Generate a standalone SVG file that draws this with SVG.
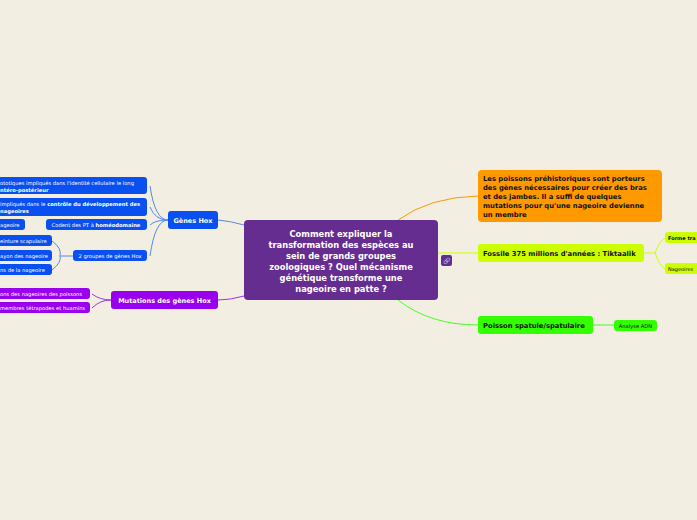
<svg xmlns="http://www.w3.org/2000/svg" width="697" height="520" viewBox="0 0 697 520">
<style>
text{font-family:Verdana,"DejaVu Sans",sans-serif}
.b{fill:#0a50f0}.w{fill:#fff;font-size:5.2px}.bw{fill:#fff;font-size:6.5px;font-weight:bold}
.c{fill:none;stroke-width:1}
.k{fill:#111;font-weight:bold;font-size:6.8px}
</style>
<rect width="697" height="520" fill="#f2efe2"/>
<g id="connectors">
<path class="c" stroke="#5588ee" d="M244 225 Q230 221 218 220"/>
<path class="c" stroke="#5588ee" d="M168 220 Q155 220 150 186 M168 220 Q155 220 150 207 M168 220 Q155 220 150 225 M168 220 Q155 220 150 256"/>
<path class="c" stroke="#5588ee" d="M46 225 H52 M73 256 H60 Q62 248 52 241 M60 256 Q62 262 52 270"/>
<path class="c" stroke="#9933ee" d="M244 296 Q230 300 218 300 M111 300 Q100 300 92 294 M111 300 Q100 300 92 308"/>
<path class="c" stroke="#ff9900" d="M398 220 Q430 197 478 196"/>
<path class="c" stroke="#ccff00" d="M438 253 H478 M644 253 H655 Q660 240 665 238 M655 253 Q660 266 665 269"/>
<path class="c" stroke="#44ff22" d="M398 300 Q430 325 478 325 M593 325 H614"/>
</g>
<g id="central"><rect x="244" y="220" width="194" height="80" rx="4" fill="#662d91"/>
<text x="341" text-anchor="middle" fill="#fff" font-size="8.3" font-weight="bold"><tspan x="341" y="237">Comment expliquer la</tspan><tspan x="341" y="248">transformation des espèces au</tspan><tspan x="341" y="259">sein de grands groupes</tspan><tspan x="341" y="270">zoologiques ? Quel mécanisme</tspan><tspan x="341" y="281">génétique transforme une</tspan><tspan x="341" y="292">nageoire en patte ?</tspan></text>
<rect x="441" y="255" width="11" height="11" rx="2" fill="#662d91"/><text x="446.5" y="263" text-anchor="middle" fill="#fff" font-size="6">🔗</text></g>
<g id="hox"><rect x="168" y="211" width="50" height="18" rx="3" class="b"/><text x="193" y="223" text-anchor="middle" class="bw">Gènes Hox</text></g>
<g id="h1"><rect x="-5" y="177" width="152" height="17" rx="3" class="b"/><text x="0" y="184.5" class="w">ototiques impliqués dans l'identité cellulaire le long</text><text x="0" y="191.5" class="w" font-weight="bold">ntéro-postérieur</text></g>
<g id="h2"><rect x="-5" y="198" width="152" height="18" rx="3" class="b"/><text x="0" y="205.5" class="w">impliqués dans le <tspan font-weight="bold">contrôle du développement des</tspan></text><text x="0" y="212.5" class="w" font-weight="bold">nageoires</text></g>
<g id="h3"><rect x="46" y="219" width="101" height="11" rx="3" class="b"/><text x="96" y="226.5" text-anchor="middle" class="w">Codent des PT à <tspan font-weight="bold">homéodomaine</tspan></text></g>
<g id="h3a"><rect x="-5" y="219" width="30" height="11" rx="3" class="b"/><text x="0" y="226.5" class="w">ageoire</text></g>
<g id="h4"><rect x="73" y="250" width="74" height="11" rx="3" class="b"/><text x="110" y="257.5" text-anchor="middle" class="w">2 groupes de gènes Hox</text></g>
<g id="h4a"><rect x="-5" y="235" width="57" height="11" rx="3" class="b"/><text x="0" y="242.5" class="w">einture scapulaire</text></g>
<g id="h4b"><rect x="-5" y="250" width="57" height="11" rx="3" class="b"/><text x="0" y="257.5" class="w">ayon des nageoire</text></g>
<g id="h4c"><rect x="-5" y="264" width="57" height="11" rx="3" class="b"/><text x="0" y="271.5" class="w">ns de la nageoire</text></g>
<g id="mut"><rect x="111" y="291" width="107" height="18" rx="3" fill="#9900ee"/><text x="164.5" y="302.5" text-anchor="middle" class="bw">Mutations des gènes Hox</text></g>
<g id="m1"><rect x="-5" y="288" width="95" height="11" rx="3" fill="#9900ee"/><text x="0" y="295.5" class="w">ons des nageoires des poissons</text></g>
<g id="m2"><rect x="-5" y="302" width="95" height="11" rx="3" fill="#9900ee"/><text x="0" y="309.5" class="w">membres tétrapodes et huamins</text></g>
<g id="orange"><rect x="478" y="170" width="184" height="52" rx="4" fill="#ff9900"/><text class="k"><tspan x="483" y="181">Les poissons préhistoriques sont porteurs</tspan><tspan x="483" y="190">des gènes nécessaires pour créer des bras</tspan><tspan x="483" y="199">et des jambes. Il a suffi de quelques</tspan><tspan x="483" y="208">mutations pour qu'une nageoire devienne</tspan><tspan x="483" y="217">un membre</tspan></text></g>
<g id="fossile"><rect x="478" y="244" width="166" height="18" rx="3" fill="#ccff00"/><text x="483" y="256" class="k">Fossile 375 millions d'années : Tiktaalik</text></g>
<g id="f1"><rect x="665" y="232" width="40" height="11" rx="3" fill="#ccff00"/><text x="668" y="240" fill="#111" font-weight="bold" font-size="5">Forme tra</text></g>
<g id="f2"><rect x="665" y="263" width="40" height="11" rx="3" fill="#ccff00"/><text x="668" y="271" fill="#111" font-size="5">Nageoires</text></g>
<g id="spatule"><rect x="478" y="316" width="115" height="18" rx="3" fill="#33ff00"/><text x="483" y="328" class="k">Poisson spatule/spatulaire</text></g>
<g id="adn"><rect x="614" y="320" width="43" height="11" rx="3" fill="#33ff00"/><text x="635.5" y="328" text-anchor="middle" fill="#111" font-size="5.2">Analyse ADN</text></g>
</svg>
